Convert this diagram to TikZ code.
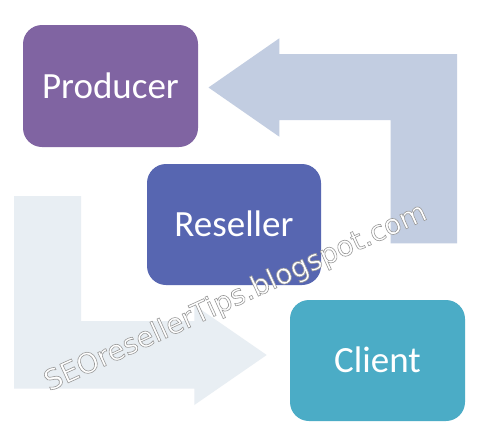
\documentclass[tikz,border=0pt]{standalone}
\usepackage{fontspec}
\setmainfont{Carlito}
\newfontfamily\wmfont{DejaVu Sans}
\definecolor{prodcol}{HTML}{8064A2}
\definecolor{rescol}{HTML}{5766B1}
\definecolor{clicol}{HTML}{4BACC6}
\definecolor{toparrow}{HTML}{C2CDE1}
\definecolor{botarrow}{HTML}{E8EEF3}
\tikzset{
  box/.style={rectangle, rounded corners=19pt, inner sep=0pt, text=white,
    font=\fontsize{37}{40}\selectfont, text height=24pt, text depth=0pt},
  blockarrow/.style={draw=none},
  wmtext/.style={rotate=24.5, anchor=base, inner sep=0pt, text=white,
    font=\wmfont\fontsize{28}{30}\selectfont}
}
\newcommand{\outlinedtext}[1]{\special{pdf:literal 2 Tr 0.6 w 0.6 G}#1\special{pdf:literal 0 Tr}}
\begin{document}
\begin{tikzpicture}[x=1pt,y=-1pt]
\useasboundingbox[fill=white] (0,0) rectangle (487,440);
% block arrows
\fill[toparrow, blockarrow] (208.5,87.5) -- (279.3,38.3) -- (279.3,54) -- (457,54) -- (457,243.3)
  -- (390.7,243.3) -- (390.7,120) -- (279.3,120) -- (279.3,136.7) -- cycle;
\fill[botarrow, blockarrow] (14,196) -- (81,196) -- (81,321) -- (194.3,321) -- (194.3,305)
  -- (266.7,355) -- (194.3,405) -- (194.3,388.7) -- (14,388.7) -- cycle;
% boxes
\node[box, fill=prodcol, minimum width=175pt, minimum height=122pt] (producer) at (110.5,86) {Producer};
\node[box, fill=rescol, minimum width=174pt, minimum height=121pt] (reseller) at (234,224.5) {Reseller};
\node[box, fill=clicol, minimum width=175pt, minimum height=121pt] (client) at (377.5,360.5) {Client};
% watermark (white text with grey outline)
\node[wmtext] (wm) at (239,305) {\outlinedtext{SEOresellerTips.blogspot.com}};
\end{tikzpicture}
\end{document}
